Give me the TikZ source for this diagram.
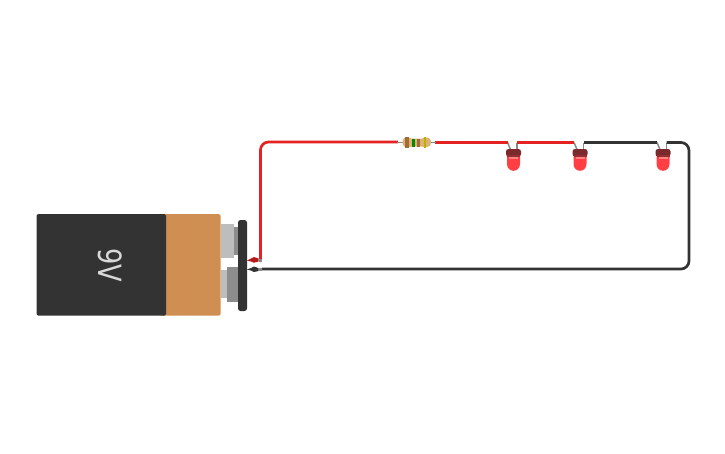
\documentclass[tikz,border=0pt]{standalone}
\usepackage{fontspec}
\setsansfont{DejaVu Sans}
\usetikzlibrary{positioning}
\definecolor{casedark}{HTML}{333333}
\definecolor{casecopper}{HTML}{CF8E52}
\definecolor{snaplight}{HTML}{BDBDBD}
\definecolor{snapmid}{HTML}{8C8C8C}
\definecolor{wirered}{HTML}{E42222}
\definecolor{wiredark}{HTML}{333333}
\definecolor{ledred}{HTML}{FF3F43}
\definecolor{ledcap}{HTML}{7A2A2C}
\definecolor{pingray}{HTML}{8A8A8A}
\definecolor{restan}{HTML}{DDB274}
\tikzset{
  wirepath/.style={line width=2.7pt, rounded corners=8pt},
  pinline/.style={draw=pingray, line width=1.5pt},
}
\begin{document}
\begin{tikzpicture}[x=1pt, y=-1pt]
    \useasboundingbox (0,0) rectangle (725,453);

    % battery
    \fill[casecopper, rounded corners=1.5pt] (160,214) rectangle (220.5,315.5);
    \fill[casedark, rounded corners=1.5pt] (36.5,214) -- (166,214) -- (166,315.5) -- (36.5,315.5) -- cycle;
    \node[font=\sffamily\fontsize{32}{32}\selectfont, text=white!85!black, rotate=-90, xscale=.8] (voltlabel) at (110.5,265) {9V};

    % snaps
    \fill[snaplight] (221,224) rectangle (234,258);
    \fill[snapmid] (233.5,227) rectangle (238,255);
    \fill[snaplight] (221,270) rectangle (228,298);
    \fill[snapmid] (227,267) rectangle (238,302);
    \fill[casedark, rounded corners=2.5pt] (238,220) rectangle (247,311);

    % positions of the wires
    \coordinate (redstart) at (260.5,260);
    \coordinate (darkstart) at (262,269);
    \coordinate (resleft) at (398,142);
    \coordinate (resright) at (435,142.5);

    % leds
    \foreach \name/\cx in {ledone/513.5, ledtwo/580, ledthree/663}{
        \coordinate (\name pinl) at (\cx-6,142.5);
        \coordinate (\name pinr) at (\cx+3.5,142.5);
        \draw[pinline] (\name pinl) -- (\cx-3,149.5);
        \draw[pinline] (\name pinr) -- (\cx+3.5,149.5);
        \fill[ledred] (\cx-6.5,155) -- (\cx+6.5,155) -- (\cx+6.5,164) arc[start angle=0, end angle=180, x radius=6.5pt, y radius=-6.8pt] -- cycle;
        \fill[white!35!ledred] (\cx-4.5,156.5) rectangle (\cx+4.5,159);
        \fill[ledcap, rounded corners=2.5pt] (\cx-7.5,149) rectangle (\cx+7.5,156.5);
        \fill[ledcap!80!ledred] (\cx-6.5,154.5) rectangle (\cx+6.5,156.5);
      }

    % wires
    \draw[wirered, wirepath] (redstart) -- (260.5,142) -- (resleft);
    \draw[wirered, line width=2.7pt] (resright) -- (ledonepinl);
    \draw[wirered, line width=2.7pt] (ledonepinr) -- (ledtwopinl);
    \draw[wiredark, line width=2.7pt] (ledtwopinr) -- (ledthreepinl);
    \draw[wiredark, wirepath] (ledthreepinr) -- (689,142.5) -- (689,269) -- (darkstart);

    % plugs
    \fill[wirered!80!black] (247,260.5) -- (251,258.5) -- (254,257) -- (258.5,258.5) -- (258.5,261.5) -- (254,262.7) -- (251,261.5) -- cycle;
    \fill[casedark] (247,269.5) -- (251,268) -- (254,266.5) -- (258.5,268) -- (258.5,271) -- (254,272) -- (251,270.5) -- cycle;
    \fill[pingray] (258.5,258.5) rectangle (261.8,261.5);
    \fill[pingray] (258.5,268) rectangle (262,270.5);

    % resistor
    \draw[pingray, line width=1.6pt] (397,142.5) -- (436,142.5);
    \fill[restan] (402.5,142.3) .. controls (402.5,138) and (405,137) .. (408,137) -- (411,138.5) -- (422,138.5) -- (425,137) .. controls (428,137) and (431,138.5) .. (431,142.3) .. controls (431,146) and (428,147.5) .. (425,147.5) -- (422,146.5) -- (411,146.5) -- (408,147.5) .. controls (405,147.5) and (402.5,146) .. (402.5,142.3) -- cycle;
    \foreach \bx/\bw/\by/\bh/\bc in {405/4/137/10.5/brown!85!black, 412/3/138.5/8/green!55!black, 417/3/138.5/8/brown!85!black, 424/1.5/137/10.5/olive!60!yellow}{
        \fill[\bc] (\bx,\by) rectangle ++(\bw,\bh);
      }
\end{tikzpicture}
\end{document}
